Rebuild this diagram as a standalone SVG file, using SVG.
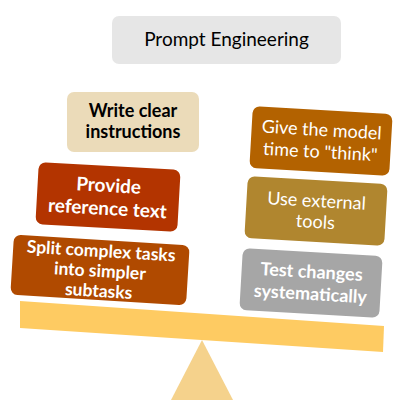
<svg xmlns="http://www.w3.org/2000/svg" width="412" height="410" viewBox="0 0 412 410">
<style>
text{font-family:Lato,"Liberation Sans",sans-serif;text-anchor:middle}
.w{fill:#fff}
.b{font-weight:bold}
.k{fill:#000}
</style>
<rect width="412" height="410" fill="#fff"/>
<g id="seesaw">
<polygon points="202,340 171,400 233,400" fill="#F5D28C"/>
<polygon points="20,301 384,326 383,352 20,328" fill="#FECB62"/>
</g>
<g id="title">
<rect x="112" y="16" width="229" height="48" rx="7" fill="#E6E6E6"/>
<text x="226.5" y="46" font-size="19" class="k">Prompt Engineering</text>
</g>
<g id="write">
<rect x="67" y="92" width="132" height="60" rx="7" fill="#EBDBB9"/>
<text x="133" y="117" font-size="18" class="k b">Write clear</text>
<text x="133" y="138" font-size="18" class="k b">instructions</text>
</g>
<g id="provide" transform="translate(108,197) rotate(3.2)">
<rect x="-71" y="-31" width="142" height="62" rx="7" fill="#B33400"/>
<text x="0" y="-5" font-size="19" class="w b">Provide</text>
<text x="0" y="18" font-size="19" class="w b">reference text</text>
</g>
<g id="split" transform="translate(100,270) rotate(3.5)">
<rect x="-88" y="-30" width="176" height="60" rx="7" fill="#B04A00"/>
<text x="0" y="-13" font-size="17.5" class="w b">Split complex tasks</text>
<text x="0" y="7" font-size="17.5" class="w b">into simpler</text>
<text x="0" y="27" font-size="17.5" class="w b">subtasks</text>
</g>
<g id="think" transform="translate(321,141) rotate(3.3)">
<rect x="-70" y="-31" width="140" height="62" rx="7" fill="#B36200"/>
<text x="0" y="-5" font-size="18" class="w">Give the model</text>
<text x="0" y="17" font-size="18" class="w">time to "think"</text>
</g>
<g id="tools" transform="translate(316,211) rotate(3.3)">
<rect x="-70" y="-31" width="140" height="62" rx="7" fill="#B0862F"/>
<text x="0" y="-4" font-size="18" class="w">Use external</text>
<text x="0" y="17" font-size="18" class="w">tools</text>
</g>
<g id="test" transform="translate(311,283) rotate(3.3)">
<rect x="-70" y="-31" width="140" height="62" rx="7" fill="#A6A6A6"/>
<text x="0" y="-5" font-size="18" class="w b">Test changes</text>
<text x="0" y="17" font-size="18" class="w b">systematically</text>
</g>
<g id="connectors"></g>
</svg>
